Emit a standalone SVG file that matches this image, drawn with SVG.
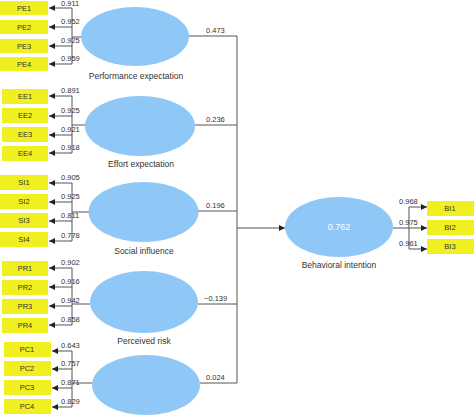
<svg xmlns="http://www.w3.org/2000/svg" width="474" height="415" viewBox="0 0 474 415">
<style>
.box{fill:#f0f020;}
.ell{fill:#8fc7f7;}
.bl{font-family:"Liberation Sans",Arial,sans-serif;font-size:7.5px;fill:#333;text-anchor:middle;}
.nm{font-family:"Liberation Sans",Arial,sans-serif;font-size:8.5px;fill:#333;text-anchor:middle;}
.num{font-family:"Liberation Sans",Arial,sans-serif;font-size:7.5px;fill:#333;}
.ln{stroke:#555;stroke-width:1;fill:none;}
.ar{stroke:#555;stroke-width:1;fill:none;marker-end:url(#ah);}
</style>
<defs>
<marker id="ah" viewBox="0 0 10 10" refX="10" refY="5" markerWidth="6" markerHeight="6" markerUnits="userSpaceOnUse" orient="auto">
<path d="M0,0 L10,5 L0,10 z" fill="#222"/>
</marker>
</defs>
<rect width="474" height="415" fill="#fff"/>
<g id="connectors">
<path class="ln" d="M72,8 V64 M72,37 H81"/>
<path class="ar" d="M72,8 H49"/><path class="ar" d="M72,27 H49"/><path class="ar" d="M72,46 H49"/><path class="ar" d="M72,64 H49"/>
<path class="ln" d="M72,96 V153 M72,125 H86"/>
<path class="ar" d="M72,96 H49"/><path class="ar" d="M72,116 H49"/><path class="ar" d="M72,135 H49"/><path class="ar" d="M72,153 H49"/>
<path class="ln" d="M72,183 V241 M72,212 H89"/>
<path class="ar" d="M72,183 H49"/><path class="ar" d="M72,202 H49"/><path class="ar" d="M72,221 H49"/><path class="ar" d="M72,241 H49"/>
<path class="ln" d="M72,268 V325 M72,304 H90"/>
<path class="ar" d="M72,268 H49"/><path class="ar" d="M72,287 H49"/><path class="ar" d="M72,306 H49"/><path class="ar" d="M72,325 H49"/>
<path class="ln" d="M72,351 V407 M72,383 H92"/>
<path class="ar" d="M72,351 H52"/><path class="ar" d="M72,369 H52"/><path class="ar" d="M72,388 H52"/><path class="ar" d="M72,407 H52"/>
<path class="ln" d="M189,36 H237 M195,125 H237 M198,211 H237 M198,304 H237 M200,383 H237 M237,36 V383"/>
<path class="ar" d="M237,228 H285"/>
<path class="ln" d="M393,228 H409 M409,207 V249"/>
<path class="ar" d="M409,207 H427"/><path class="ar" d="M409,228 H427"/><path class="ar" d="M409,249 H427"/>
</g>
<g id="labels-loadings">
<text class="num" x="61" y="6">0.911</text>
<text class="num" x="61" y="24">0.952</text>
<text class="num" x="61" y="43">0.925</text>
<text class="num" x="61" y="61">0.959</text>
<text class="num" x="61" y="93">0.891</text>
<text class="num" x="61" y="113">0.925</text>
<text class="num" x="61" y="132">0.921</text>
<text class="num" x="61" y="150">0.918</text>
<text class="num" x="61" y="180">0.905</text>
<text class="num" x="61" y="199">0.925</text>
<text class="num" x="61" y="218">0.811</text>
<text class="num" x="61" y="238">0.778</text>
<text class="num" x="61" y="265">0.902</text>
<text class="num" x="61" y="284">0.916</text>
<text class="num" x="61" y="303">0.942</text>
<text class="num" x="61" y="322">0.858</text>
<text class="num" x="61" y="348">0.643</text>
<text class="num" x="61" y="366">0.757</text>
<text class="num" x="61" y="385">0.871</text>
<text class="num" x="61" y="404">0.829</text>
<text class="num" x="206" y="33">0.473</text>
<text class="num" x="206" y="122">0.236</text>
<text class="num" x="206" y="208">0.196</text>
<text class="num" x="204" y="301">−0.139</text>
<text class="num" x="206" y="380">0.024</text>
<text class="num" x="399" y="204">0.968</text>
<text class="num" x="399" y="225">0.975</text>
<text class="num" x="399" y="246">0.961</text>
</g>
<g id="PE1"><rect class="box" x="0" y="1" width="48" height="14"/><text class="bl" x="24" y="11">PE1</text></g>
<g id="PE2"><rect class="box" x="0" y="20" width="48" height="14"/><text class="bl" x="24" y="30">PE2</text></g>
<g id="PE3"><rect class="box" x="0" y="39" width="48" height="14"/><text class="bl" x="24" y="49">PE3</text></g>
<g id="PE4"><rect class="box" x="0" y="57" width="48" height="14"/><text class="bl" x="24" y="67">PE4</text></g>
<g id="EE1"><rect class="box" x="2" y="89" width="46" height="15"/><text class="bl" x="25" y="99">EE1</text></g>
<g id="EE2"><rect class="box" x="2" y="108" width="46" height="15"/><text class="bl" x="25" y="118">EE2</text></g>
<g id="EE3"><rect class="box" x="2" y="127" width="46" height="15"/><text class="bl" x="25" y="137">EE3</text></g>
<g id="EE4"><rect class="box" x="2" y="146" width="46" height="15"/><text class="bl" x="25" y="156">EE4</text></g>
<g id="SI1"><rect class="box" x="0" y="175" width="48" height="15"/><text class="bl" x="24" y="185">SI1</text></g>
<g id="SI2"><rect class="box" x="0" y="194" width="48" height="15"/><text class="bl" x="24" y="204">SI2</text></g>
<g id="SI3"><rect class="box" x="0" y="213" width="48" height="15"/><text class="bl" x="24" y="223">SI3</text></g>
<g id="SI4"><rect class="box" x="0" y="232" width="48" height="15"/><text class="bl" x="24" y="242">SI4</text></g>
<g id="PR1"><rect class="box" x="2" y="261" width="46" height="15"/><text class="bl" x="25" y="271">PR1</text></g>
<g id="PR2"><rect class="box" x="2" y="280" width="46" height="15"/><text class="bl" x="25" y="290">PR2</text></g>
<g id="PR3"><rect class="box" x="2" y="299" width="46" height="15"/><text class="bl" x="25" y="309">PR3</text></g>
<g id="PR4"><rect class="box" x="2" y="318" width="46" height="15"/><text class="bl" x="25" y="328">PR4</text></g>
<g id="PC1"><rect class="box" x="4" y="342" width="47" height="15"/><text class="bl" x="27" y="352">PC1</text></g>
<g id="PC2"><rect class="box" x="4" y="361" width="47" height="15"/><text class="bl" x="27" y="371">PC2</text></g>
<g id="PC3"><rect class="box" x="4" y="380" width="47" height="15"/><text class="bl" x="27" y="390">PC3</text></g>
<g id="PC4"><rect class="box" x="4" y="399" width="47" height="15"/><text class="bl" x="27" y="409">PC4</text></g>
<g id="PE"><ellipse class="ell" cx="135" cy="36.5" rx="54" ry="29.5"/><text class="nm" x="136" y="79">Performance expectation</text></g>
<g id="EE"><ellipse class="ell" cx="140" cy="126" rx="55" ry="30"/><text class="nm" x="141" y="167">Effort expectation</text></g>
<g id="SI"><ellipse class="ell" cx="143.5" cy="212" rx="55" ry="30"/><text class="nm" x="144" y="254">Social influence</text></g>
<g id="PR"><ellipse class="ell" cx="144" cy="302" rx="54" ry="31"/><text class="nm" x="144" y="344">Perceived risk</text></g>
<g id="PC"><ellipse class="ell" cx="146" cy="385" rx="54" ry="30"/></g>
<g id="BI"><ellipse class="ell" cx="339" cy="227" rx="54" ry="30"/><text x="339" y="230" style="font-family:'Liberation Sans',Arial,sans-serif;font-size:9px;fill:#fff;text-anchor:middle">0.762</text><text class="nm" x="339" y="268">Behavioral intention</text></g>
<g id="BI1"><rect class="box" x="427" y="201" width="47" height="15"/><text class="bl" x="450" y="211">BI1</text></g>
<g id="BI2"><rect class="box" x="427" y="220" width="47" height="15"/><text class="bl" x="450" y="230">BI2</text></g>
<g id="BI3"><rect class="box" x="427" y="239" width="47" height="15"/><text class="bl" x="450" y="249">BI3</text></g>
</svg>
